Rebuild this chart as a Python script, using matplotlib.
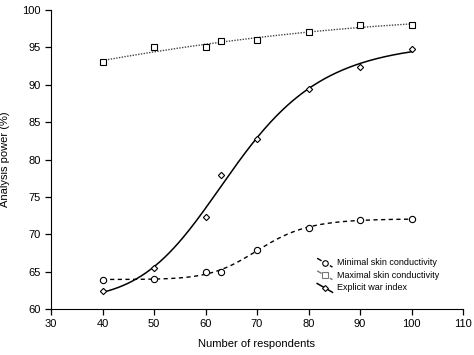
import matplotlib
matplotlib.use('Agg')
import matplotlib.pyplot as plt
import numpy as np
from matplotlib.lines import Line2D
from matplotlib.legend_handler import HandlerLine2D

plt.rcParams['font.family'] = ['Liberation Sans', 'DejaVu Sans']

# data
respondents = [40, 50, 60, 63, 70, 80, 90, 100]
minimal_sc = [63.9, 64.0, 64.9, 65.0, 67.9, 70.9, 71.9, 72.0]
maximal_sc = [93.0, 95.0, 95.0, 95.9, 96.0, 97.0, 98.0, 98.0]
explicit_war = [62.4, 65.5, 72.3, 77.9, 82.7, 89.4, 92.4, 94.8]

x_ticks = [30, 40, 50, 60, 70, 80, 90, 100, 110]
y_ticks = [60, 65, 70, 75, 80, 85, 90, 95, 100]


def sigmoid_fit(x, y, xs):
    """4-parameter logistic y = y0 + a / (1 + (x/x0)^-b); grid over x0, b"""
    x = np.asarray(x, float)
    y = np.asarray(y, float)
    best = None
    for x0 in np.linspace(45, 110, 261):
        for b in np.linspace(1, 25, 193):
            s = 1.0 / (1.0 + (x / x0) ** (-b))
            A = np.column_stack([np.ones_like(s), s])
            coef, *_ = np.linalg.lstsq(A, y, rcond=None)
            err = np.sum((A @ coef - y) ** 2)
            if best is None or err < best[0]:
                best = (err, x0, b, coef)
    _, x0, b, coef = best
    s = 1.0 / (1.0 + (xs / x0) ** (-b))
    return coef[0] + coef[1] * s


class DiagonalHandler(HandlerLine2D):
    """SigmaPlot-style legend key: short diagonal line with a marker"""
    def create_artists(self, legend, orig_handle, xdescent, ydescent,
                       width, height, fontsize, trans):
        x0, x1 = -xdescent, -xdescent + width
        y0, y1 = -ydescent + height * 1.1, -ydescent - height * 0.3
        line = Line2D([x0, x1], [y0, y1], color=orig_handle.get_color(),
                      linestyle=orig_handle.get_linestyle(),
                      linewidth=orig_handle.get_linewidth())
        mk = Line2D([(x0 + x1) / 2], [(y0 + y1) / 2],
                    marker=orig_handle.get_marker(),
                    markersize=orig_handle.get_markersize(),
                    markerfacecolor='white',
                    markeredgecolor=orig_handle.get_color(),
                    markeredgewidth=orig_handle.get_markeredgewidth(),
                    linestyle='none')
        line.set_transform(trans)
        mk.set_transform(trans)
        return [line, mk]


fig = plt.figure(figsize=(4.74, 3.55), dpi=100)
ax = fig.add_axes([51 / 474, 1 - 309 / 355, 412 / 474, 299 / 355])

xs = np.linspace(40, 100, 200)
curve_min = sigmoid_fit(respondents, minimal_sc, xs)
curve_exp = sigmoid_fit(respondents, explicit_war, xs)
curve_max = np.polyval(np.polyfit(respondents, maximal_sc, 2), xs)

ax.plot(xs, curve_min, color='black', linestyle=(0, (3, 2.5)), linewidth=1.0)
ax.plot(xs, curve_max, color='#444444', linestyle=(0, (1, 1)), linewidth=1.0)
ax.plot(xs, curve_exp, color='black', linestyle='-', linewidth=1.1)

ax.plot(respondents, minimal_sc, 'o', ms=4.5, mfc='white', mec='black', mew=0.8)
ax.plot(respondents, maximal_sc, 's', ms=4.5, mfc='white', mec='black', mew=0.8)
ax.plot(respondents, explicit_war, 'D', ms=3.2, mfc='white', mec='black', mew=0.8)

h_min = Line2D([], [], color='black', linestyle=(0, (2, 1.5)), linewidth=1.0,
               marker='o', markersize=4, markeredgewidth=0.8)
h_max = Line2D([], [], color='#777777', linestyle=(0, (1, 1)), linewidth=1.0,
               marker='s', markersize=4, markeredgewidth=0.8)
h_exp = Line2D([], [], color='black', linestyle='-', linewidth=1.1,
               marker='D', markersize=3, markeredgewidth=0.8)
ax.legend([h_min, h_max, h_exp],
          ['Minimal skin conductivity', 'Maximal skin conductivity', 'Explicit war index'],
          handler_map={Line2D: DiagonalHandler()},
          loc='upper left', bbox_to_anchor=(0.635, 0.185), frameon=False,
          fontsize=6.5, handlelength=1.7, handletextpad=0.5, labelspacing=0.4,
          borderpad=0)

ax.set_xlim(30, 110)
ax.set_ylim(60, 100)
ax.set_xticks(x_ticks)
ax.set_yticks(y_ticks)
ax.spines['top'].set_visible(False)
ax.spines['right'].set_visible(False)
ax.tick_params(direction='out', length=4, width=0.9, labelsize=8)
ax.set_xlabel('Number of respondents', fontsize=8, labelpad=7)
ax.set_ylabel('Analysis power (%)', fontsize=8, labelpad=9)

fig.savefig('out.png', dpi=100)
